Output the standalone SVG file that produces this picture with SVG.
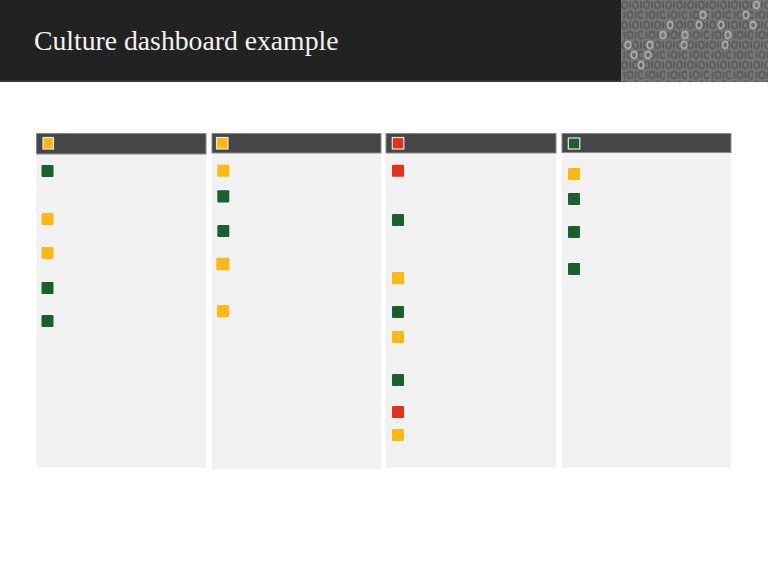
<svg xmlns="http://www.w3.org/2000/svg" width="768" height="576" viewBox="0 0 768 576">
<defs>
<style>
.title{font-family:"Liberation Serif","DejaVu Serif",serif;font-size:27.7px;fill:#f2f2f2}
.body{fill:#f1f1f1}
.hdr{fill:#464646;stroke:#8a8a8a;stroke-width:1}
.y{fill:#fdb813}
.g{fill:#1b5e2f}
.r{fill:#e1321f}
.hi{stroke:#e6e6e6;stroke-width:1.2}
.d0{fill:none;stroke:#5c5c5c;stroke-width:1.8}
.d1{stroke:#5c5c5c;stroke-width:2}
.l0{fill:none;stroke:#a9a9a9;stroke-width:1.8}
</style>
<pattern id="bin" x="621" y="0" width="22" height="20" patternUnits="userSpaceOnUse">
<rect width="22" height="20" fill="#767676"/>
<ellipse class="d0" cx="3.5" cy="5" rx="2.7" ry="3.5"/>
<line class="d1" x1="9" y1="1.5" x2="9" y2="8.5"/>
<ellipse class="d0" cx="14.5" cy="5" rx="2.7" ry="3.5"/>
<line class="d1" x1="20" y1="1.5" x2="20" y2="8.5"/>
<line class="d1" x1="3.5" y1="11.5" x2="3.5" y2="18.5"/>
<ellipse class="d0" cx="9" cy="15" rx="2.7" ry="3.5"/>
<line class="d1" x1="14.5" y1="11.5" x2="14.5" y2="18.5"/>
<ellipse class="d0" cx="20" cy="15" rx="2.7" ry="3.5"/>
</pattern>
</defs>
<g id="header">
<rect x="0" y="0" width="768" height="81" fill="#222222"/>
<rect x="0" y="80.5" width="768" height="1.5" fill="#3a3a3a"/>
<rect x="621" y="0" width="147" height="82" fill="url(#bin)"/>
<g>
<ellipse class="l0" cx="756.5" cy="5" rx="2.7" ry="3.5"/>
<ellipse class="l0" cx="703" cy="15" rx="2.7" ry="3.5"/>
<ellipse class="l0" cx="746" cy="15" rx="2.7" ry="3.5"/>
<ellipse class="l0" cx="670" cy="25" rx="2.7" ry="3.5"/>
<ellipse class="l0" cx="699" cy="25" rx="2.7" ry="3.5"/>
<ellipse class="l0" cx="721" cy="25" rx="2.7" ry="3.5"/>
<ellipse class="l0" cx="753" cy="25" rx="2.7" ry="3.5"/>
<ellipse class="l0" cx="663" cy="35" rx="2.7" ry="3.5"/>
<ellipse class="l0" cx="685" cy="35" rx="2.7" ry="3.5"/>
<ellipse class="l0" cx="728" cy="35" rx="2.7" ry="3.5"/>
<ellipse class="l0" cx="628" cy="45" rx="2.7" ry="3.5"/>
<ellipse class="l0" cx="650" cy="45" rx="2.7" ry="3.5"/>
<ellipse class="l0" cx="684" cy="45" rx="2.7" ry="3.5"/>
<ellipse class="l0" cx="725" cy="45" rx="2.7" ry="3.5"/>
<ellipse class="l0" cx="634" cy="55" rx="2.7" ry="3.5"/>
<ellipse class="l0" cx="648" cy="55" rx="2.7" ry="3.5"/>
<ellipse class="l0" cx="641" cy="65" rx="2.7" ry="3.5"/>
</g>
<text class="title" x="34" y="50">Culture dashboard example</text>
</g>
<g id="col1">
<rect class="body" x="36.5" y="133.5" width="169.5" height="334"/>
<rect class="hdr" x="36.5" y="133.5" width="169.5" height="20.5"/>
<rect class="y hi" x="43" y="137.5" width="10.5" height="11.5"/>
<rect class="g" x="41.5" y="165" width="12" height="12" rx="1"/>
<rect class="y" x="41.5" y="213" width="12" height="12" rx="1"/>
<rect class="y" x="41.5" y="247" width="12" height="12" rx="1"/>
<rect class="g" x="41.5" y="282" width="12" height="12" rx="1"/>
<rect class="g" x="41.5" y="315" width="12" height="12" rx="1"/>
</g>
<g id="col2">
<rect class="body" x="212" y="133.5" width="169" height="336"/>
<rect class="hdr" x="212" y="133.5" width="169" height="19.5"/>
<rect class="y hi" x="216.5" y="137.5" width="11.5" height="11.5"/>
<rect class="y" x="217.3" y="164.7" width="12" height="12" rx="1"/>
<rect class="g" x="217.3" y="190.3" width="12" height="12.3" rx="1"/>
<rect class="g" x="217.3" y="225" width="12" height="12" rx="1"/>
<rect class="y" x="216.3" y="257.7" width="13" height="12.5" rx="1"/>
<rect class="y" x="217" y="305" width="12" height="12" rx="1"/>
</g>
<g id="col3">
<rect class="body" x="386" y="133.5" width="170" height="334"/>
<rect class="hdr" x="386" y="133.5" width="170" height="19.5"/>
<rect class="r hi" x="392.3" y="137.5" width="11.5" height="11.5"/>
<rect class="r" x="392" y="164.7" width="12" height="12" rx="1"/>
<rect class="g" x="392" y="214" width="12" height="12" rx="1"/>
<rect class="y" x="392" y="272" width="12" height="12" rx="1"/>
<rect class="g" x="392" y="306" width="12" height="12" rx="1"/>
<rect class="y" x="392" y="331" width="12" height="12" rx="1"/>
<rect class="g" x="392" y="374" width="12" height="12" rx="1"/>
<rect class="r" x="392" y="406" width="12" height="12" rx="1"/>
<rect class="y" x="392" y="429" width="12" height="12" rx="1"/>
</g>
<g id="col4">
<rect class="body" x="562" y="133.5" width="169" height="334"/>
<rect class="hdr" x="562" y="133.5" width="169" height="19"/>
<rect class="g hi" x="568.3" y="138" width="11.5" height="11"/>
<rect class="y" x="568" y="168" width="12" height="12" rx="1"/>
<rect class="g" x="568" y="193" width="12" height="12" rx="1"/>
<rect class="g" x="568" y="226" width="12" height="12" rx="1"/>
<rect class="g" x="568" y="263" width="12" height="12" rx="1"/>
</g>
<g id="connectors"/>
</svg>
